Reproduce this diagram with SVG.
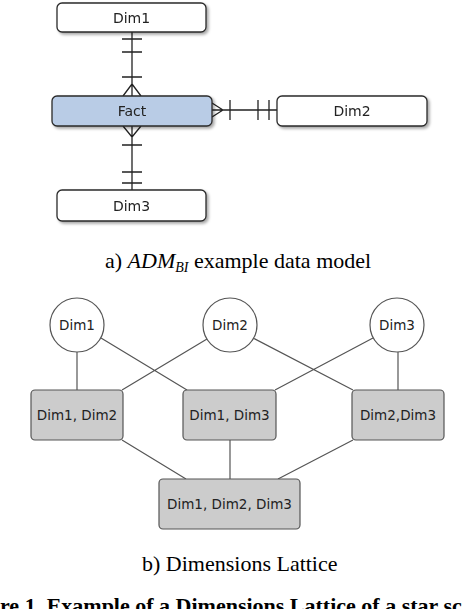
<svg xmlns="http://www.w3.org/2000/svg" width="474" height="609" viewBox="0 0 474 609">
<defs>
<filter id="sh" x="-10%" y="-20%" width="130%" height="160%">
<feGaussianBlur in="SourceAlpha" stdDeviation="1.5"/>
<feOffset dx="1.5" dy="2" result="b"/>
<feComponentTransfer><feFuncA type="linear" slope="0.35"/></feComponentTransfer>
<feMerge><feMergeNode/><feMergeNode in="SourceGraphic"/></feMerge>
</filter>
</defs>
<style>
.er{fill:#fff;stroke:#2a2a2a;stroke-width:1.3}
.fact{fill:#b9cce6;stroke:#2a2a2a;stroke-width:1.3}
.ert{font-family:"DejaVu Sans",sans-serif;font-size:14px;fill:#222;text-anchor:middle}
.c{stroke:#222;stroke-width:1.3;fill:none}
.lc{fill:#fff;stroke:#555;stroke-width:1.2}
.lb{fill:#cccccc;stroke:#555;stroke-width:1.2}
.lt{font-family:"DejaVu Sans",sans-serif;font-size:13.5px;fill:#222;text-anchor:middle}
.ll{stroke:#555;stroke-width:1.2;fill:none}
.cap{font-family:"Liberation Serif",serif;font-size:22px;fill:#000}
</style>
<rect width="474" height="609" fill="#fff"/>

<g id="connectors">
<!-- Dim1 - Fact -->
<path class="c" d="M132,32V96 M122,39H142 M122,52H142 M122,77H142 M132,84L123,96 M132,84L141,96"/>
<!-- Fact - Dim3 -->
<path class="c" d="M132,126V190 M123,126L132,137 M141,126L132,137 M122,145H142 M122,172H142 M122,183H142"/>
<!-- Fact - Dim2 -->
<path class="c" d="M212,110H277 M212,103L223,110 M212,117L223,110 M230,100V120 M258,100V120 M269,100V120"/>
<!-- lattice -->
<path class="ll" d="M77,352V390 M101,338L187,390 M207,339L122,390 M253,338L353,390 M373,338L275,390 M398,352V390 M122,440L186,479 M230,440V479 M353,440L278,479"/>
</g>

<g id="dim1" filter="url(#sh)"><rect class="er" x="57" y="3" width="149" height="29" rx="5"/><text class="ert" x="131.5" y="23">Dim1</text></g>
<g id="fact" filter="url(#sh)"><rect class="fact" x="52" y="96" width="160" height="30" rx="5"/><text class="ert" x="132" y="116">Fact</text></g>
<g id="dim2" filter="url(#sh)"><rect class="er" x="277" y="96" width="150" height="30" rx="5"/><text class="ert" x="352" y="116">Dim2</text></g>
<g id="dim3" filter="url(#sh)"><rect class="er" x="57" y="190" width="149" height="31" rx="5"/><text class="ert" x="131.5" y="211">Dim3</text></g>

<text class="cap" x="105" y="268">a) <tspan font-style="italic">ADM</tspan><tspan font-style="italic" font-size="14px" dy="4">BI</tspan><tspan dy="-4"> example data model</tspan></text>

<g id="l-dim1"><circle class="lc" cx="77" cy="325" r="27"/><text class="lt" x="77" y="330">Dim1</text></g>
<g id="l-dim2"><circle class="lc" cx="230" cy="325" r="27"/><text class="lt" x="230" y="330">Dim2</text></g>
<g id="l-dim3"><circle class="lc" cx="397" cy="325" r="27"/><text class="lt" x="397" y="330">Dim3</text></g>
<g id="l-d12"><rect class="lb" x="31" y="390" width="92" height="50" rx="4"/><text class="lt" x="77" y="420">Dim1, Dim2</text></g>
<g id="l-d13"><rect class="lb" x="183" y="390" width="93" height="50" rx="4"/><text class="lt" x="229.5" y="420">Dim1, Dim3</text></g>
<g id="l-d23"><rect class="lb" x="352" y="390" width="92" height="50" rx="4"/><text class="lt" x="398" y="420">Dim2,Dim3</text></g>
<g id="l-d123"><rect class="lb" x="159" y="479" width="141" height="50" rx="4"/><text class="lt" x="229.5" y="509">Dim1, Dim2, Dim3</text></g>

<text class="cap" x="142" y="571">b) Dimensions Lattice</text>
<text class="cap" x="0" y="613" font-weight="bold">re 1. Example of a Dimensions Lattice of a star sc</text>
</svg>
